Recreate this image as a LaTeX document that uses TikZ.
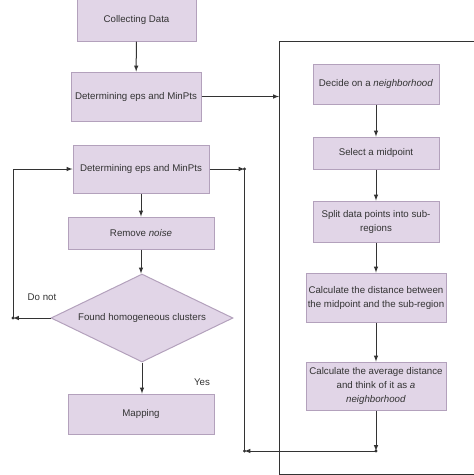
\documentclass[tikz,border=0pt]{standalone}
\usepackage{fontspec}
\setmainfont{Liberation Sans}
\usepackage{tikz}
\tikzset{>=latex}
\usetikzlibrary{shapes.geometric}
\definecolor{boxfill}{HTML}{E1D5E7}
\definecolor{boxline}{HTML}{B3A1BC}
\definecolor{ink}{HTML}{333333}
\tikzstyle{box} = [draw=boxline, fill=boxfill, line width=1, text=ink, align=center, inner sep=0]
\tikzstyle{flow} = [->, ink, line width=1]
\tikzstyle{wire} = [ink, line width=1]
\newcommand{\joint}[1]{
\fill[ink] (#1) circle (1.6);
}

\begin{document}
\begin{tikzpicture}[x=1pt, y=-1pt, font=\fontsize{9.7}{14}\selectfont]
		\useasboundingbox (0,0) rectangle (474,475);
		\clip (0,0) rectangle (474,475);
		
		% Frame
		\node[draw=ink, line width=1, minimum width=240, minimum height=433, anchor=north west] (frame) at (279,41) {};
		
		% Left column
		\node[box, minimum width=119, minimum height=42] (collect) at (136.5,20) {Collecting Data};
		\node[box, minimum width=130, minimum height=49] (eps1) at (136,96.5) {Determining eps and MinPts};
		\node[box, minimum width=136, minimum height=48] (eps2) at (141,169) {Determining eps and MinPts};
		\node[box, minimum width=146, minimum height=32] (noise) at (141,233) {Remove \textit{noise}};
		\node[box, diamond, aspect=2, minimum width=182, minimum height=88] (found) at (142,318) {Found homogeneous clusters};
		\node[box, minimum width=146, minimum height=40] (map) at (141,414) {Mapping};
		
		% Right column
		\node[box, minimum width=126, minimum height=40] (decide) at (376,84) {Decide on a \textit{neighborhood}};
		\node[box, minimum width=126, minimum height=32] (select) at (376,153) {Select a midpoint};
		\node[box, minimum width=126, minimum height=41] (split) at (376,221.5) {Split data points into sub-\\regions};
		\node[box, minimum width=140, minimum height=49] (dist) at (376,297.5) {Calculate the distance between\\the midpoint and the sub-region};
		\node[box, minimum width=140, minimum height=48] (avg) at (376,386) {Calculate the average distance\\and think of it as \textit{a}\\\textit{neighborhood}};
		
		% Labels
		\node[text=ink] (donot) at (42,297) {Do not};
		\node[text=ink] (yes) at (202,382) {Yes};
		
		% Coordinates
		\coordinate (back) at (13,318);
		\coordinate (up) at (244.5,169);
		\coordinate (corner) at (244.5,451);
		\coordinate (drop) at (376,451);
		
		% Arrows
		\draw[flow] (collect) -- (eps1);
		\draw[flow] (eps1.east) -- (eps1.east -| frame.west);
		\draw[flow] (eps2) -- (noise);
		\draw[flow] (noise.south) -- (noise.south |- found.north);
		\draw[flow] (found.south) -- (found.south |- map.north);
		\draw[flow] (found.west) -- (back);
		\draw[flow] (back) |- (eps2.west);
		\draw[flow] (eps2.east) -- (up);
		\draw[wire] (corner) -- (up);
		\draw[flow] (decide) -- (select);
		\draw[flow] (select) -- (split);
		\draw[flow] (split) -- (dist);
		\draw[flow] (dist) -- (avg);
		\draw[flow] (avg.south) -- (drop);
		\draw[flow] (drop) -- (corner);
		
		% Points
		\joint{back}
		\joint{up}
		\joint{corner}
		\joint{drop}
	\end{tikzpicture}
\end{document}
